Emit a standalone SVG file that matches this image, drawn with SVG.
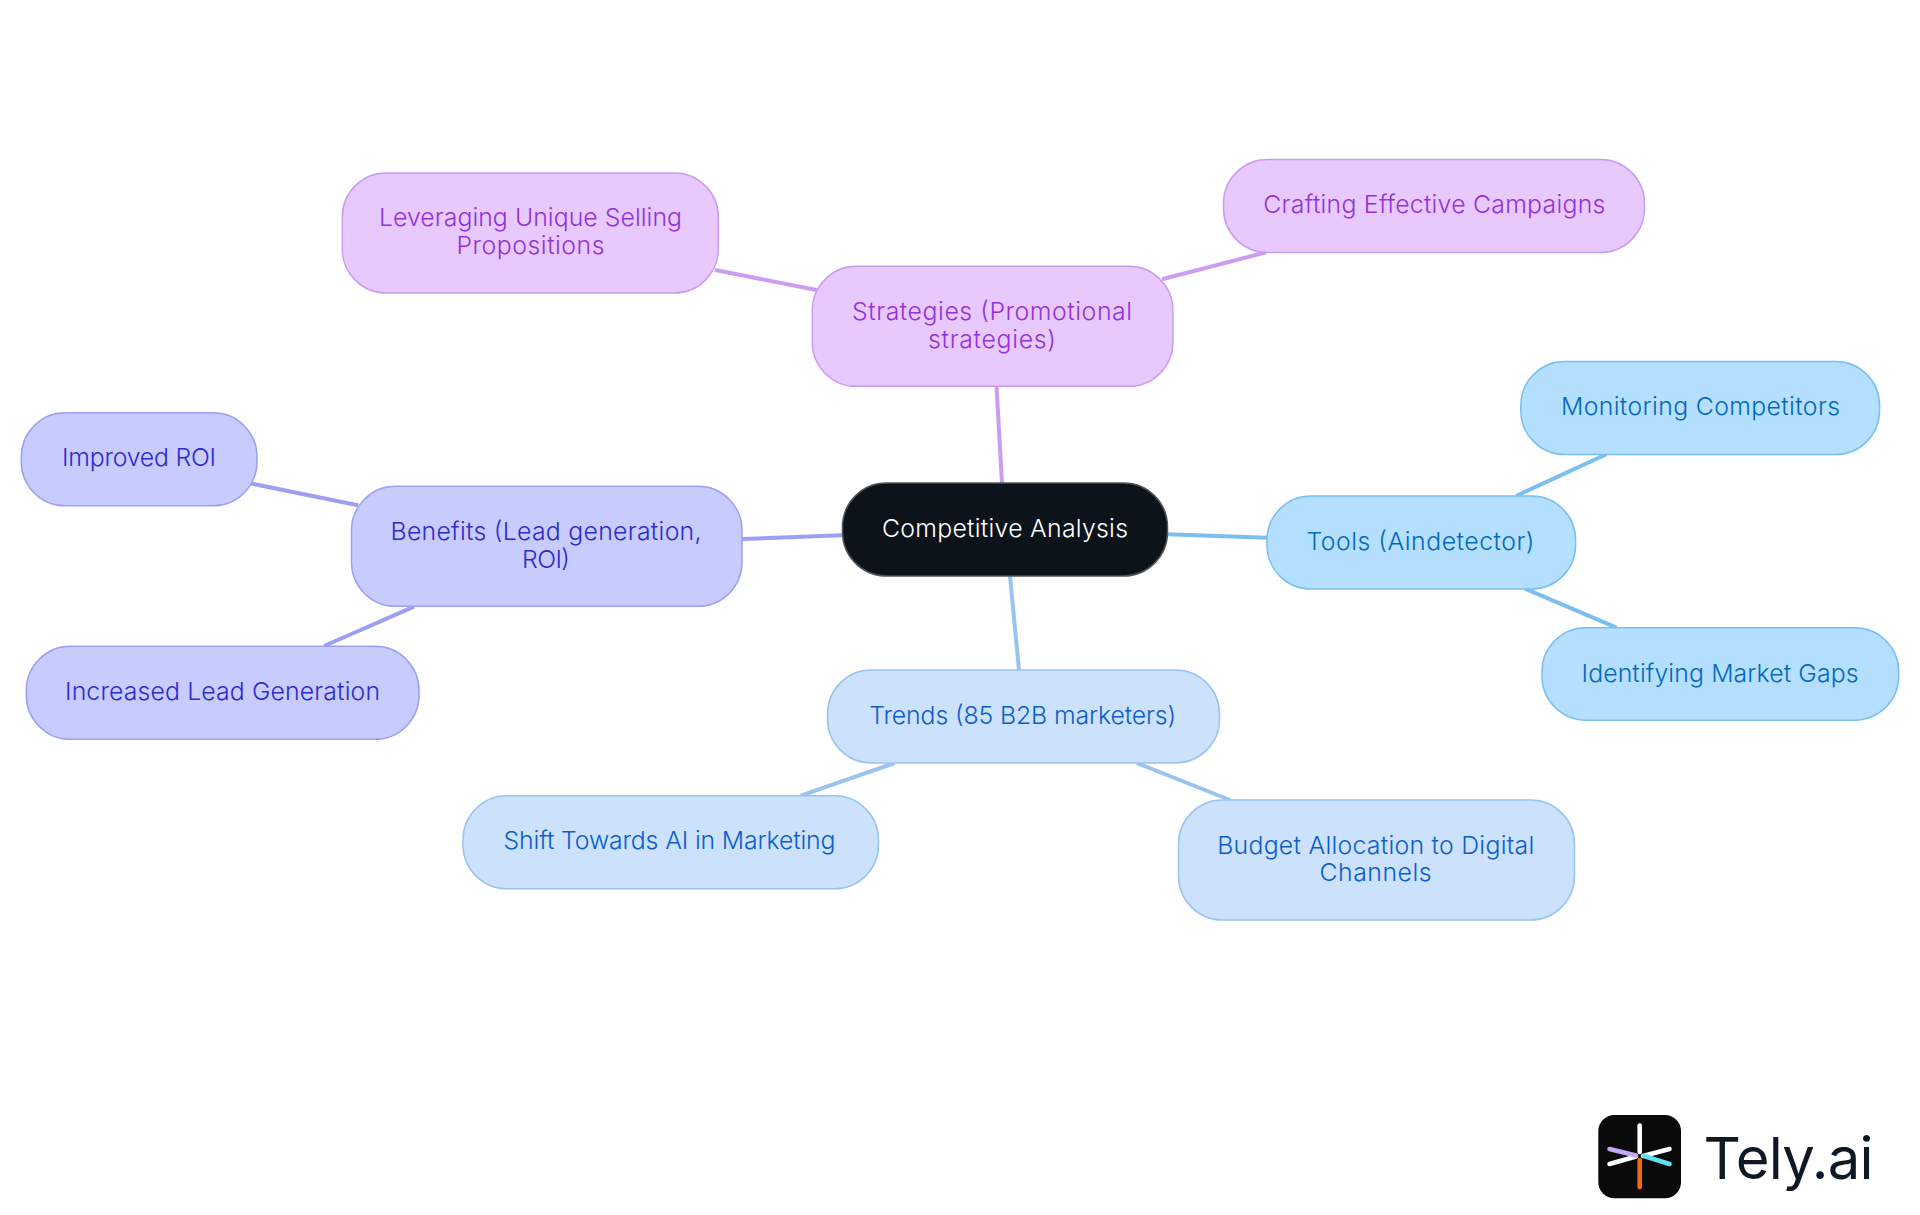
<svg xmlns="http://www.w3.org/2000/svg" width="1920" height="1215" viewBox="0 0 1920 1215">
<style>
text{font-family:"Inter","Noto Sans",sans-serif;font-size:24.8px;font-weight:350;text-anchor:middle}
.c{fill:none;stroke-width:4;stroke-linecap:butt}
rect{stroke-width:1.5}
.pl{stroke:#CA9DF3}.in{stroke:#9D9FF2}.sk{stroke:#7ABEF2}.bl{stroke:#9AC3F0}
.npl rect{fill:#E7C9FE;stroke:#CA9DF3}.npl text{fill:#9531DA}
.nin rect{fill:#C8CBFD;stroke:#9D9FF2}.nin text{fill:#2E2BCB}
.nsk rect{fill:#B5DFFF;stroke:#7ABEF2}.nsk text{fill:#0369BD}
.nbl rect{fill:#CCE2FC;stroke:#9AC3F0}.nbl text{fill:#0B5ECB}
</style>
<rect width="1920" height="1215" fill="#ffffff" style="stroke:none"/>
<g id="connectors">
<line class="c pl" x1="996.5" y1="386" x2="1002" y2="483"/>
<line class="c in" x1="742" y1="539" x2="842" y2="535.3"/>
<line class="c sk" x1="1168" y1="534.3" x2="1267" y2="537.7"/>
<line class="c bl" x1="1010" y1="576" x2="1019" y2="670"/>
<line class="c pl" x1="715" y1="270" x2="816.7" y2="290"/>
<line class="c pl" x1="1162" y1="279.3" x2="1266" y2="252.3"/>
<line class="c in" x1="251" y1="483.5" x2="358" y2="505.2"/>
<line class="c in" x1="414" y1="606.7" x2="324" y2="646"/>
<line class="c sk" x1="1606.4" y1="454.3" x2="1516" y2="496"/>
<line class="c sk" x1="1525" y1="588.7" x2="1616.4" y2="627.7"/>
<line class="c bl" x1="894.7" y1="763" x2="800.8" y2="795.7"/>
<line class="c bl" x1="1136.7" y1="763" x2="1230" y2="800"/>
</g>
<g id="n-center"><rect x="842.5" y="483" width="325" height="93" rx="44" fill="#0D131B" stroke="#50545A"/><text x="1005" y="536.7" fill="#ffffff" textLength="246">Competitive Analysis</text></g>
<g id="n-strategies" class="npl"><rect x="812.3" y="266.3" width="360.6" height="120" rx="44"/><text x="992" y="320" textLength="280">Strategies (Promotional</text><text x="992" y="347.8" textLength="128">strategies)</text></g>
<g id="n-leveraging" class="npl"><rect x="342.3" y="173" width="376" height="120" rx="44"/><text x="530.5" y="226" textLength="303">Leveraging Unique Selling</text><text x="530.5" y="254" textLength="148">Propositions</text></g>
<g id="n-crafting" class="npl"><rect x="1223.5" y="159.5" width="421" height="93" rx="44"/><text x="1434.3" y="212.7" textLength="342">Crafting Effective Campaigns</text></g>
<g id="n-benefits" class="nin"><rect x="351.5" y="486.3" width="390.5" height="120" rx="44"/><text x="546" y="540.3" textLength="311">Benefits (Lead generation,</text><text x="546" y="568" textLength="48">ROI)</text></g>
<g id="n-improved" class="nin"><rect x="21.3" y="412.8" width="235.7" height="93" rx="44"/><text x="139" y="466" textLength="154">Improved ROI</text></g>
<g id="n-increased" class="nin"><rect x="26.3" y="646.3" width="392.7" height="93" rx="44"/><text x="222.5" y="699.5" textLength="315">Increased Lead Generation</text></g>
<g id="n-tools" class="nsk"><rect x="1267" y="496" width="308.6" height="93" rx="44"/><text x="1420.5" y="550" textLength="228">Tools (Aindetector)</text></g>
<g id="n-monitoring" class="nsk"><rect x="1520.8" y="361.5" width="358.8" height="93" rx="44"/><text x="1700.5" y="415" textLength="279">Monitoring Competitors</text></g>
<g id="n-identifying" class="nsk"><rect x="1542" y="627.7" width="356.7" height="92.5" rx="44"/><text x="1720" y="681.7" textLength="277">Identifying Market Gaps</text></g>
<g id="n-trends" class="nbl"><rect x="827.5" y="670" width="392" height="93" rx="44"/><text x="1022.7" y="724" textLength="307">Trends (85 B2B marketers)</text></g>
<g id="n-shift" class="nbl"><rect x="463" y="795.8" width="415.5" height="93" rx="44"/><text x="669.5" y="849" textLength="332">Shift Towards AI in Marketing</text></g>
<g id="n-budget" class="nbl"><rect x="1178.5" y="800" width="396" height="120" rx="44"/><text x="1375.7" y="854" textLength="317">Budget Allocation to Digital</text><text x="1375.5" y="881" textLength="112">Channels</text></g>
<g id="logo">
<rect x="1598.3" y="1115" width="82.7" height="83.3" rx="16" fill="#0A0A0A" style="stroke:none"/>
<g fill="none" stroke-width="4.6" stroke-linecap="round">
<line x1="1639.7" y1="1125.5" x2="1639.7" y2="1152" stroke="#ffffff"/>
<line x1="1669.5" y1="1149" x2="1643" y2="1156" stroke="#ffffff"/>
<line x1="1609.5" y1="1164" x2="1636" y2="1156.5" stroke="#ffffff"/>
<line x1="1609.5" y1="1149" x2="1636" y2="1155.5" stroke="#C4A8F5"/>
<line x1="1644" y1="1156" x2="1669.5" y2="1164" stroke="#5FE0EE"/>
<line x1="1639.7" y1="1160" x2="1639.7" y2="1187" stroke="#F26A0F"/>
</g>
<text x="1788.5" y="1178.5" fill="#101824" style="font-size:58px;font-weight:400" textLength="170">Tely.ai</text>
</g>
</svg>
